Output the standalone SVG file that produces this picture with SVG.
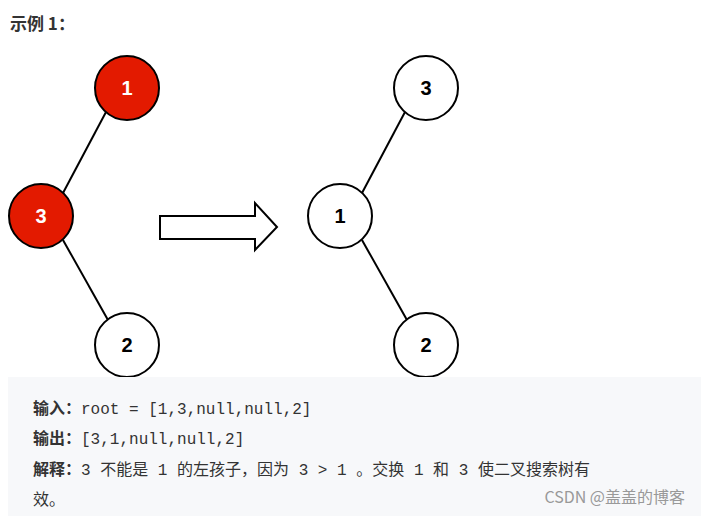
<svg xmlns="http://www.w3.org/2000/svg" width="701" height="516" viewBox="0 0 701 516">
<style>
.n{stroke:#000;stroke-width:2}
.r{fill:#e31a00}
.w{fill:#fff}
.lbl{font-family:"Liberation Sans",Arial,sans-serif;font-weight:bold;font-size:20px;text-anchor:middle}
.t{font-family:"Liberation Mono","Noto Sans CJK SC",monospace;font-size:16px;fill:#333}
.cn{font-family:"Noto Sans CJK SC",sans-serif}
.e{stroke:#000;stroke-width:2}
</style>
<rect width="701" height="516" fill="#fff"/>
<text x="10" y="30" font-family="Noto Sans CJK SC,sans-serif" font-weight="bold" font-size="17" fill="#333">示例 1：</text>
<g id="edges">
<line class="e" x1="106" y1="112" x2="63" y2="193"/>
<line class="e" x1="63" y1="240" x2="108" y2="320"/>
<line class="e" x1="405" y1="112" x2="362" y2="193"/>
<line class="e" x1="362" y1="240" x2="407" y2="320"/>
<path d="M160 216 H255 V203 L277 227 L255 250 V239 H160 Z" fill="#fff" stroke="#000" stroke-width="2"/>
</g>
<g id="a1"><circle class="n r" cx="127" cy="88" r="32"/><text class="lbl" x="127" y="95" fill="#fff">1</text></g>
<g id="a3"><circle class="n r" cx="41" cy="216" r="32"/><text class="lbl" x="41" y="223" fill="#fff">3</text></g>
<g id="a2"><circle class="n w" cx="127" cy="345" r="32"/><text class="lbl" x="127" y="352">2</text></g>
<g id="b3"><circle class="n w" cx="426" cy="88" r="32"/><text class="lbl" x="426" y="95">3</text></g>
<g id="b1"><circle class="n w" cx="340" cy="216" r="32"/><text class="lbl" x="340" y="223">1</text></g>
<g id="b2"><circle class="n w" cx="426" cy="345" r="32"/><text class="lbl" x="426" y="352">2</text></g>
<rect x="8" y="377" width="693" height="139" fill="#f7f8fa"/>
<text class="t" x="33" y="414"><tspan class="cn" font-weight="bold">输入：</tspan>root = [1,3,null,null,2]</text>
<text class="t" x="33" y="444"><tspan class="cn" font-weight="bold">输出：</tspan>[3,1,null,null,2]</text>
<text class="t" x="33" y="475"><tspan class="cn" font-weight="bold">解释：</tspan>3 <tspan class="cn">不能是</tspan> 1 <tspan class="cn">的左孩子，因为</tspan> 3 &gt; 1 <tspan class="cn">。交换</tspan> 1 <tspan class="cn">和</tspan> 3 <tspan class="cn">使二叉搜索树有</tspan></text>
<text class="t cn" x="33" y="505">效。</text>
<text x="685" y="503" text-anchor="end" font-family="Noto Sans CJK SC,sans-serif" font-size="16" fill="#999">CSDN @盖盖的博客</text>
</svg>
